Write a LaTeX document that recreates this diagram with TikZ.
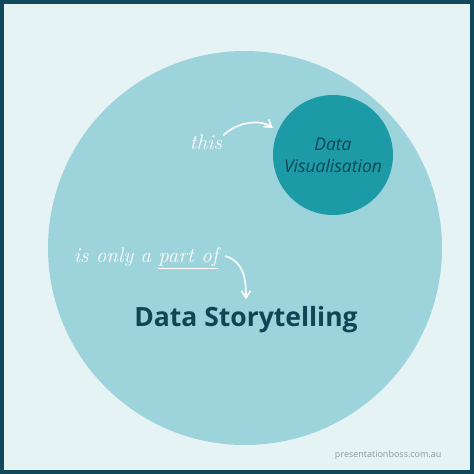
\documentclass[tikz,border=0pt]{standalone}
\usepackage{fontspec}
\setsansfont{Open Sans}
\usepackage{xcolor}
\usetikzlibrary{arrows.meta,positioning,calc}

\definecolor{frame}{HTML}{12495A}
\definecolor{paper}{HTML}{E6F3F5}
\definecolor{outer}{HTML}{9DD3DB}
\definecolor{inner}{HTML}{1C9AA6}
\definecolor{ink}{HTML}{0E4656}
\definecolor{foot}{HTML}{8A9A9E}

\tikzset{
  hand/.style={white, font=\rmfamily\itshape\fontsize{21}{21}\selectfont, inner sep=1pt},
  hairarrow/.style={white, line width=1.6pt, -{Straight Barb[length=7pt,width=9pt]}}
}

\begin{document}
\begin{tikzpicture}[x=1pt, y=-1pt]
    % frame and background
    \fill[frame] (0,0) rectangle (474,474);
    \fill[paper] (4,4) rectangle (470,470);
    \useasboundingbox (0,0) rectangle (474,474);

    % big circle - the whole story
    \fill[outer] (245,248) circle (197);
    % small circle - the visual part
    \node[circle, fill=inner, minimum size=120pt, inner sep=0pt, align=center,
          text=ink, font=\sffamily\itshape\fontsize{17.5}{22}\selectfont] (vis) at (333,155) {Data\\Visualisation};

    % handwritten remarks
    \node[hand] (this) at (206,142) {this};
    \node[hand] (part) at (146,258) {is only a \underline{part of}};
    \node[text=ink, font=\sffamily\bfseries\fontsize{26.5}{30}\selectfont] (story) at (246,320) {Data Storytelling};

    % arrows
    \draw[hairarrow] (this.north east) ++(0,2) .. controls (240,120) and (262,120) .. (vis.west |- 0,128);
    \draw[hairarrow] (part.east) ++(6,-2) .. controls (245,262) and (246,282) .. ($(story.north)+(0,-4)$);

    % footer
    \node[text=foot, font=\sffamily\fontsize{9}{10}\selectfont, anchor=east] (site) at (445,455) {presentationboss.com.au};
\end{tikzpicture}
\end{document}
